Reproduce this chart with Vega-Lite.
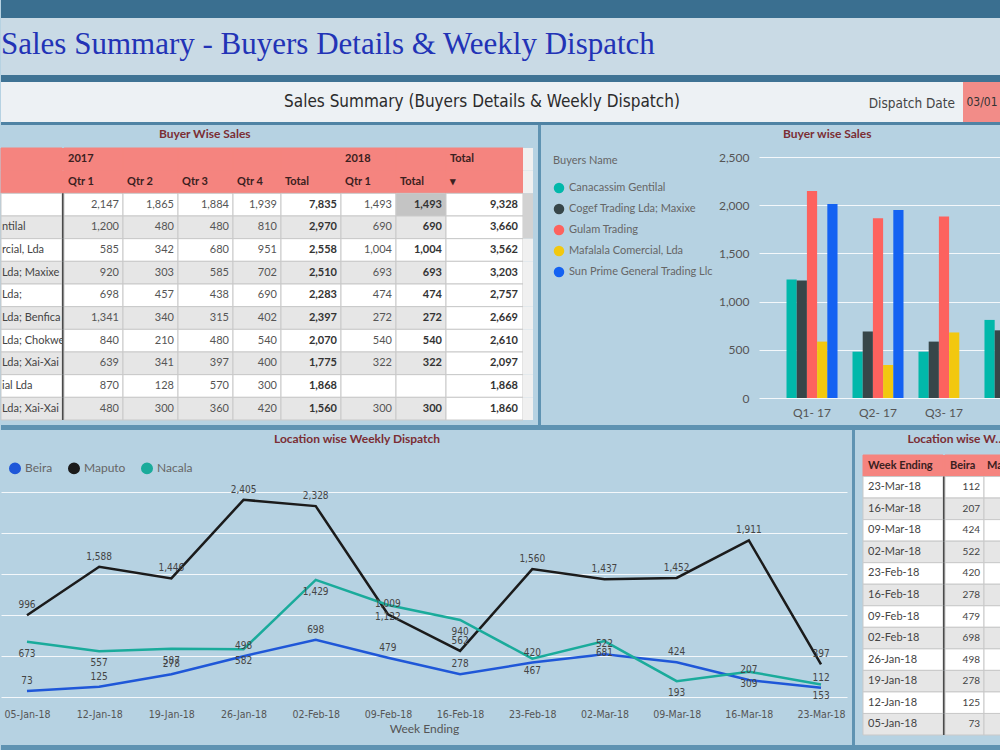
{
  "$schema": "https://vega.github.io/schema/vega-lite/v6.json",
  "background": "#b6d2e2",
  "padding": 0,
  "spacing": 0,
  "datasets": {
    "one": [{"k": ""}],
    "bars": [
      {"quarter": "Q1- 17", "buyer": "Canacassim Gentilal", "sales": 1230},
      {"quarter": "Q1- 17", "buyer": "Cogef Trading Lda; Maxixe", "sales": 1220},
      {"quarter": "Q1- 17", "buyer": "Gulam Trading", "sales": 2147},
      {"quarter": "Q1- 17", "buyer": "Mafalala Comercial, Lda", "sales": 585},
      {"quarter": "Q1- 17", "buyer": "Sun Prime General Trading Llc", "sales": 2013},
      {"quarter": "Q2- 17", "buyer": "Canacassim Gentilal", "sales": 480},
      {"quarter": "Q2- 17", "buyer": "Cogef Trading Lda; Maxixe", "sales": 690},
      {"quarter": "Q2- 17", "buyer": "Gulam Trading", "sales": 1865},
      {"quarter": "Q2- 17", "buyer": "Mafalala Comercial, Lda", "sales": 342},
      {"quarter": "Q2- 17", "buyer": "Sun Prime General Trading Llc", "sales": 1951},
      {"quarter": "Q3- 17", "buyer": "Canacassim Gentilal", "sales": 480},
      {"quarter": "Q3- 17", "buyer": "Cogef Trading Lda; Maxixe", "sales": 585},
      {"quarter": "Q3- 17", "buyer": "Gulam Trading", "sales": 1884},
      {"quarter": "Q3- 17", "buyer": "Mafalala Comercial, Lda", "sales": 680},
      {"quarter": "Q4- 17", "buyer": "Canacassim Gentilal", "sales": 810},
      {"quarter": "Q4- 17", "buyer": "Cogef Trading Lda; Maxixe", "sales": 702},
      {"quarter": "Q4- 17", "buyer": "Gulam Trading", "sales": 1939},
      {"quarter": "Q4- 17", "buyer": "Mafalala Comercial, Lda", "sales": 951}
    ],
    "t1": [
      {"r": -1, "c": "name"}, {"r": -1, "c": "q1", "s": "2017"}, {"r": -1, "c": "q2"}, {"r": -1, "c": "q3"}, {"r": -1, "c": "q4"}, {"r": -1, "c": "t17"}, {"r": -1, "c": "q1b", "s": "2018"}, {"r": -1, "c": "t18"}, {"r": -1, "c": "total", "s": "Total"},
      {"r": 0, "c": "name"}, {"r": 0, "c": "q1", "s": "Qtr 1"}, {"r": 0, "c": "q2", "s": "Qtr 2"}, {"r": 0, "c": "q3", "s": "Qtr 3"}, {"r": 0, "c": "q4", "s": "Qtr 4"}, {"r": 0, "c": "t17", "s": "Total"}, {"r": 0, "c": "q1b", "s": "Qtr 1"}, {"r": 0, "c": "t18", "s": "Total"}, {"r": 0, "c": "total", "s": "▾"},
      {"r": 1, "c": "name"}, {"r": 1, "c": "q1", "v": 2147}, {"r": 1, "c": "q2", "v": 1865}, {"r": 1, "c": "q3", "v": 1884}, {"r": 1, "c": "q4", "v": 1939}, {"r": 1, "c": "t17", "v": 7835}, {"r": 1, "c": "q1b", "v": 1493}, {"r": 1, "c": "t18", "v": 1493}, {"r": 1, "c": "total", "v": 9328},
      {"r": 2, "c": "name", "s": "ntilal"}, {"r": 2, "c": "q1", "v": 1200}, {"r": 2, "c": "q2", "v": 480}, {"r": 2, "c": "q3", "v": 480}, {"r": 2, "c": "q4", "v": 810}, {"r": 2, "c": "t17", "v": 2970}, {"r": 2, "c": "q1b", "v": 690}, {"r": 2, "c": "t18", "v": 690}, {"r": 2, "c": "total", "v": 3660},
      {"r": 3, "c": "name", "s": "rcial, Lda"}, {"r": 3, "c": "q1", "v": 585}, {"r": 3, "c": "q2", "v": 342}, {"r": 3, "c": "q3", "v": 680}, {"r": 3, "c": "q4", "v": 951}, {"r": 3, "c": "t17", "v": 2558}, {"r": 3, "c": "q1b", "v": 1004}, {"r": 3, "c": "t18", "v": 1004}, {"r": 3, "c": "total", "v": 3562},
      {"r": 4, "c": "name", "s": "Lda; Maxixe"}, {"r": 4, "c": "q1", "v": 920}, {"r": 4, "c": "q2", "v": 303}, {"r": 4, "c": "q3", "v": 585}, {"r": 4, "c": "q4", "v": 702}, {"r": 4, "c": "t17", "v": 2510}, {"r": 4, "c": "q1b", "v": 693}, {"r": 4, "c": "t18", "v": 693}, {"r": 4, "c": "total", "v": 3203},
      {"r": 5, "c": "name", "s": "Lda;"}, {"r": 5, "c": "q1", "v": 698}, {"r": 5, "c": "q2", "v": 457}, {"r": 5, "c": "q3", "v": 438}, {"r": 5, "c": "q4", "v": 690}, {"r": 5, "c": "t17", "v": 2283}, {"r": 5, "c": "q1b", "v": 474}, {"r": 5, "c": "t18", "v": 474}, {"r": 5, "c": "total", "v": 2757},
      {"r": 6, "c": "name", "s": "Lda; Benfica"}, {"r": 6, "c": "q1", "v": 1341}, {"r": 6, "c": "q2", "v": 340}, {"r": 6, "c": "q3", "v": 315}, {"r": 6, "c": "q4", "v": 402}, {"r": 6, "c": "t17", "v": 2397}, {"r": 6, "c": "q1b", "v": 272}, {"r": 6, "c": "t18", "v": 272}, {"r": 6, "c": "total", "v": 2669},
      {"r": 7, "c": "name", "s": "Lda; Chokwe"}, {"r": 7, "c": "q1", "v": 840}, {"r": 7, "c": "q2", "v": 210}, {"r": 7, "c": "q3", "v": 480}, {"r": 7, "c": "q4", "v": 540}, {"r": 7, "c": "t17", "v": 2070}, {"r": 7, "c": "q1b", "v": 540}, {"r": 7, "c": "t18", "v": 540}, {"r": 7, "c": "total", "v": 2610},
      {"r": 8, "c": "name", "s": "Lda; Xai-Xai"}, {"r": 8, "c": "q1", "v": 639}, {"r": 8, "c": "q2", "v": 341}, {"r": 8, "c": "q3", "v": 397}, {"r": 8, "c": "q4", "v": 400}, {"r": 8, "c": "t17", "v": 1775}, {"r": 8, "c": "q1b", "v": 322}, {"r": 8, "c": "t18", "v": 322}, {"r": 8, "c": "total", "v": 2097},
      {"r": 9, "c": "name", "s": "ial Lda"}, {"r": 9, "c": "q1", "v": 870}, {"r": 9, "c": "q2", "v": 128}, {"r": 9, "c": "q3", "v": 570}, {"r": 9, "c": "q4", "v": 300}, {"r": 9, "c": "t17", "v": 1868}, {"r": 9, "c": "q1b"}, {"r": 9, "c": "t18"}, {"r": 9, "c": "total", "v": 1868},
      {"r": 10, "c": "name", "s": "Lda; Xai-Xai"}, {"r": 10, "c": "q1", "v": 480}, {"r": 10, "c": "q2", "v": 300}, {"r": 10, "c": "q3", "v": 360}, {"r": 10, "c": "q4", "v": 420}, {"r": 10, "c": "t17", "v": 1560}, {"r": 10, "c": "q1b", "v": 300}, {"r": 10, "c": "t18", "v": 300}, {"r": 10, "c": "total", "v": 1860}
    ],
    "dispatch": [
      {"week": "05-Jan-18", "location": "Beira", "qty": 73},
      {"week": "12-Jan-18", "location": "Beira", "qty": 125},
      {"week": "19-Jan-18", "location": "Beira", "qty": 278},
      {"week": "26-Jan-18", "location": "Beira", "qty": 498},
      {"week": "02-Feb-18", "location": "Beira", "qty": 698},
      {"week": "09-Feb-18", "location": "Beira", "qty": 479},
      {"week": "16-Feb-18", "location": "Beira", "qty": 278},
      {"week": "23-Feb-18", "location": "Beira", "qty": 420},
      {"week": "02-Mar-18", "location": "Beira", "qty": 522},
      {"week": "09-Mar-18", "location": "Beira", "qty": 424},
      {"week": "16-Mar-18", "location": "Beira", "qty": 207},
      {"week": "23-Mar-18", "location": "Beira", "qty": 112},
      {"week": "05-Jan-18", "location": "Maputo", "qty": 996},
      {"week": "12-Jan-18", "location": "Maputo", "qty": 1588},
      {"week": "19-Jan-18", "location": "Maputo", "qty": 1446},
      {"week": "26-Jan-18", "location": "Maputo", "qty": 2405},
      {"week": "02-Feb-18", "location": "Maputo", "qty": 2328},
      {"week": "09-Feb-18", "location": "Maputo", "qty": 1009},
      {"week": "16-Feb-18", "location": "Maputo", "qty": 562},
      {"week": "23-Feb-18", "location": "Maputo", "qty": 1560},
      {"week": "02-Mar-18", "location": "Maputo", "qty": 1437},
      {"week": "09-Mar-18", "location": "Maputo", "qty": 1452},
      {"week": "16-Mar-18", "location": "Maputo", "qty": 1911},
      {"week": "23-Mar-18", "location": "Maputo", "qty": 397},
      {"week": "05-Jan-18", "location": "Nacala", "qty": 673},
      {"week": "12-Jan-18", "location": "Nacala", "qty": 557},
      {"week": "19-Jan-18", "location": "Nacala", "qty": 587},
      {"week": "26-Jan-18", "location": "Nacala", "qty": 582},
      {"week": "02-Feb-18", "location": "Nacala", "qty": 1429},
      {"week": "09-Feb-18", "location": "Nacala", "qty": 1122},
      {"week": "16-Feb-18", "location": "Nacala", "qty": 940},
      {"week": "23-Feb-18", "location": "Nacala", "qty": 467},
      {"week": "02-Mar-18", "location": "Nacala", "qty": 681},
      {"week": "09-Mar-18", "location": "Nacala", "qty": 193},
      {"week": "16-Mar-18", "location": "Nacala", "qty": 309},
      {"week": "23-Mar-18", "location": "Nacala", "qty": 153}
    ],
    "wt": [
      {"r": 0, "c": "wk", "s": "Week Ending"}, {"r": 0, "c": "beira", "s": "Beira"}, {"r": 0, "c": "maputo", "s": "Maputo"},
      {"r": 1, "c": "wk", "s": "23-Mar-18"}, {"r": 1, "c": "beira", "v": 112}, {"r": 1, "c": "maputo"},
      {"r": 2, "c": "wk", "s": "16-Mar-18"}, {"r": 2, "c": "beira", "v": 207}, {"r": 2, "c": "maputo"},
      {"r": 3, "c": "wk", "s": "09-Mar-18"}, {"r": 3, "c": "beira", "v": 424}, {"r": 3, "c": "maputo"},
      {"r": 4, "c": "wk", "s": "02-Mar-18"}, {"r": 4, "c": "beira", "v": 522}, {"r": 4, "c": "maputo"},
      {"r": 5, "c": "wk", "s": "23-Feb-18"}, {"r": 5, "c": "beira", "v": 420}, {"r": 5, "c": "maputo"},
      {"r": 6, "c": "wk", "s": "16-Feb-18"}, {"r": 6, "c": "beira", "v": 278}, {"r": 6, "c": "maputo"},
      {"r": 7, "c": "wk", "s": "09-Feb-18"}, {"r": 7, "c": "beira", "v": 479}, {"r": 7, "c": "maputo"},
      {"r": 8, "c": "wk", "s": "02-Feb-18"}, {"r": 8, "c": "beira", "v": 698}, {"r": 8, "c": "maputo"},
      {"r": 9, "c": "wk", "s": "26-Jan-18"}, {"r": 9, "c": "beira", "v": 498}, {"r": 9, "c": "maputo"},
      {"r": 10, "c": "wk", "s": "19-Jan-18"}, {"r": 10, "c": "beira", "v": 278}, {"r": 10, "c": "maputo"},
      {"r": 11, "c": "wk", "s": "12-Jan-18"}, {"r": 11, "c": "beira", "v": 125}, {"r": 11, "c": "maputo"},
      {"r": 12, "c": "wk", "s": "05-Jan-18"}, {"r": 12, "c": "beira", "v": 73}, {"r": 12, "c": "maputo"}
    ]
  },
  "vconcat": [
    {"width": 1000, "height": 18, "data": {"name": "one"}, "mark": {"type": "text", "fontSize": 0}, "encoding": {"text": {"field": "k"}}, "view": {"fill": "#3a6f90"}},
    {"width": 1000, "height": 57, "data": {"name": "one"}, "mark": {"type": "text", "fontSize": 0}, "encoding": {"text": {"field": "k"}}, "view": {"fill": "#c9dae5"},
     "title": {"text": "Sales Summary - Buyers Details & Weekly Dispatch", "anchor": "start", "frame": "group", "offset": -43, "font": "Liberation Serif", "fontSize": 31, "fontWeight": "normal", "color": "#2233b6"}},
    {"width": 1000, "height": 7, "data": {"name": "one"}, "mark": {"type": "text", "fontSize": 0}, "encoding": {"text": {"field": "k"}}, "view": {"fill": "#3f7394"}},
    {"hconcat": [
      {"width": 962, "height": 40, "data": {"values": [{"heading": "Sales Summary (Buyers Details & Weekly Dispatch)"}]},
       "mark": {"type": "text", "font": "DejaVu Sans Condensed", "fontSize": 17, "color": "#2b2b2b"},
       "encoding": {"text": {"field": "heading"}}, "view": {"fill": "#edf1f4"},
       "title": {"text": "Dispatch Date", "anchor": "end", "frame": "group", "offset": -28, "dx": -8, "font": "DejaVu Sans Condensed", "fontSize": 13.5, "fontWeight": "normal", "color": "#444444"}},
      {"width": 38, "height": 40, "data": {"values": [{"date": "03/01"}]},
       "mark": {"type": "text", "font": "DejaVu Sans Condensed", "fontSize": 12, "color": "#333333"},
       "encoding": {"text": {"field": "date"}}, "view": {"fill": "#f28c88"}}
    ], "spacing": 0, "bounds": "flush"},
    {"width": 1000, "height": 3, "data": {"name": "one"}, "mark": {"type": "text", "fontSize": 0}, "encoding": {"text": {"field": "k"}}, "view": {"fill": "#4f83a4"}},
    {"hconcat": [
      {"data": {"name": "t1"},
       "title": {"text": "Buyer Wise Sales", "anchor": "middle", "dx": -62, "offset": -16},
       "bounds": "flush",
       "hconcat": [
        {"width": 61, "height": 295, "transform": [{"filter": "datum.c == 'name'"}],
         "layer": [
          {"mark": {"type": "rect", "strokeWidth": 1},
           "encoding": {"x": {"field": "c", "type": "nominal", "axis": null, "scale": {"paddingInner": 0, "paddingOuter": 0}}, "y": {"field": "r", "type": "ordinal", "axis": null, "scale": {"domain": [-1,0,1,2,3,4,5,6,7,8,9,10], "range": [23, 295], "paddingInner": 0, "paddingOuter": 0}},
            "stroke": {"condition": {"test": "datum.r <= 0", "value": "#f5847f"}, "value": "#c9c9c9"},
            "fill": {"condition": [{"test": "datum.r <= 0", "value": "#f5847f"}, {"test": "datum.c == 'total'", "value": "#ffffff"}, {"test": "datum.r == 1 && datum.c == 't18'", "value": "#c4c4c4"}, {"test": "datum.r % 2 == 0", "value": "#e6e6e6"}], "value": "#ffffff"}}},
          {"transform": [{"filter": "isValid(datum.s)"}], "mark": {"type": "text", "align": "left", "dx": 1, "fontSize": 11, "color": "#444444"},
           "encoding": {"x": {"field": "c", "type": "nominal", "axis": null, "bandPosition": 0}, "y": {"field": "r", "type": "ordinal", "axis": null}, "text": {"field": "s"}}}
         ]},
        {"width": 2, "height": 295, "transform": [{"filter": "datum.c == 'name'"}],
         "mark": {"type": "rect"},
         "encoding": {"x": {"field": "c", "type": "nominal", "axis": null, "scale": {"paddingInner": 0, "paddingOuter": 0}}, "y": {"field": "r", "type": "ordinal", "axis": null, "scale": {"domain": [-1,0,1,2,3,4,5,6,7,8,9,10], "range": [23, 295], "paddingInner": 0, "paddingOuter": 0}},
          "fill": {"condition": {"test": "datum.r <= 0", "value": "#f5847f"}, "value": "#4a4a4a"}}},
        {"width": 59, "height": 295, "transform": [{"filter": "datum.c == 'q1'"}],
         "layer": [
          {"mark": {"type": "rect", "strokeWidth": 1},
           "encoding": {"x": {"field": "c", "type": "nominal", "axis": null, "scale": {"paddingInner": 0, "paddingOuter": 0}}, "y": {"field": "r", "type": "ordinal", "axis": null, "scale": {"domain": [-1,0,1,2,3,4,5,6,7,8,9,10], "range": [23, 295], "paddingInner": 0, "paddingOuter": 0}},
            "stroke": {"condition": {"test": "datum.r <= 0", "value": "#f5847f"}, "value": "#c9c9c9"},
            "fill": {"condition": [{"test": "datum.r <= 0", "value": "#f5847f"}, {"test": "datum.c == 'total'", "value": "#ffffff"}, {"test": "datum.r == 1 && datum.c == 't18'", "value": "#c4c4c4"}, {"test": "datum.r % 2 == 0", "value": "#e6e6e6"}], "value": "#ffffff"}}},
          {"transform": [{"filter": "isValid(datum.s)"}], "mark": {"type": "text", "align": "left", "dx": 4, "fontSize": 11, "fontWeight": "bold", "color": "#3a2020"},
           "encoding": {"x": {"field": "c", "type": "nominal", "axis": null, "bandPosition": 0}, "y": {"field": "r", "type": "ordinal", "axis": null}, "text": {"field": "s"}}},
          {"transform": [{"filter": "isValid(datum.v)"}], "mark": {"type": "text", "align": "right", "dx": -4, "fontSize": 11, "color": "#555555"},
           "encoding": {"x": {"field": "c", "type": "nominal", "axis": null, "bandPosition": 1}, "y": {"field": "r", "type": "ordinal", "axis": null}, "text": {"field": "v", "type": "quantitative", "format": ","}}}
         ]},
        {"width": 55, "height": 295, "transform": [{"filter": "datum.c == 'q2'"}],
         "layer": [
          {"mark": {"type": "rect", "strokeWidth": 1},
           "encoding": {"x": {"field": "c", "type": "nominal", "axis": null, "scale": {"paddingInner": 0, "paddingOuter": 0}}, "y": {"field": "r", "type": "ordinal", "axis": null, "scale": {"domain": [-1,0,1,2,3,4,5,6,7,8,9,10], "range": [23, 295], "paddingInner": 0, "paddingOuter": 0}},
            "stroke": {"condition": {"test": "datum.r <= 0", "value": "#f5847f"}, "value": "#c9c9c9"},
            "fill": {"condition": [{"test": "datum.r <= 0", "value": "#f5847f"}, {"test": "datum.c == 'total'", "value": "#ffffff"}, {"test": "datum.r == 1 && datum.c == 't18'", "value": "#c4c4c4"}, {"test": "datum.r % 2 == 0", "value": "#e6e6e6"}], "value": "#ffffff"}}},
          {"transform": [{"filter": "isValid(datum.s)"}], "mark": {"type": "text", "align": "left", "dx": 4, "fontSize": 11, "fontWeight": "bold", "color": "#3a2020"},
           "encoding": {"x": {"field": "c", "type": "nominal", "axis": null, "bandPosition": 0}, "y": {"field": "r", "type": "ordinal", "axis": null}, "text": {"field": "s"}}},
          {"transform": [{"filter": "isValid(datum.v)"}], "mark": {"type": "text", "align": "right", "dx": -4, "fontSize": 11, "color": "#555555"},
           "encoding": {"x": {"field": "c", "type": "nominal", "axis": null, "bandPosition": 1}, "y": {"field": "r", "type": "ordinal", "axis": null}, "text": {"field": "v", "type": "quantitative", "format": ","}}}
         ]},
        {"width": 55, "height": 295, "transform": [{"filter": "datum.c == 'q3'"}],
         "layer": [
          {"mark": {"type": "rect", "strokeWidth": 1},
           "encoding": {"x": {"field": "c", "type": "nominal", "axis": null, "scale": {"paddingInner": 0, "paddingOuter": 0}}, "y": {"field": "r", "type": "ordinal", "axis": null, "scale": {"domain": [-1,0,1,2,3,4,5,6,7,8,9,10], "range": [23, 295], "paddingInner": 0, "paddingOuter": 0}},
            "stroke": {"condition": {"test": "datum.r <= 0", "value": "#f5847f"}, "value": "#c9c9c9"},
            "fill": {"condition": [{"test": "datum.r <= 0", "value": "#f5847f"}, {"test": "datum.c == 'total'", "value": "#ffffff"}, {"test": "datum.r == 1 && datum.c == 't18'", "value": "#c4c4c4"}, {"test": "datum.r % 2 == 0", "value": "#e6e6e6"}], "value": "#ffffff"}}},
          {"transform": [{"filter": "isValid(datum.s)"}], "mark": {"type": "text", "align": "left", "dx": 4, "fontSize": 11, "fontWeight": "bold", "color": "#3a2020"},
           "encoding": {"x": {"field": "c", "type": "nominal", "axis": null, "bandPosition": 0}, "y": {"field": "r", "type": "ordinal", "axis": null}, "text": {"field": "s"}}},
          {"transform": [{"filter": "isValid(datum.v)"}], "mark": {"type": "text", "align": "right", "dx": -4, "fontSize": 11, "color": "#555555"},
           "encoding": {"x": {"field": "c", "type": "nominal", "axis": null, "bandPosition": 1}, "y": {"field": "r", "type": "ordinal", "axis": null}, "text": {"field": "v", "type": "quantitative", "format": ","}}}
         ]},
        {"width": 48, "height": 295, "transform": [{"filter": "datum.c == 'q4'"}],
         "layer": [
          {"mark": {"type": "rect", "strokeWidth": 1},
           "encoding": {"x": {"field": "c", "type": "nominal", "axis": null, "scale": {"paddingInner": 0, "paddingOuter": 0}}, "y": {"field": "r", "type": "ordinal", "axis": null, "scale": {"domain": [-1,0,1,2,3,4,5,6,7,8,9,10], "range": [23, 295], "paddingInner": 0, "paddingOuter": 0}},
            "stroke": {"condition": {"test": "datum.r <= 0", "value": "#f5847f"}, "value": "#c9c9c9"},
            "fill": {"condition": [{"test": "datum.r <= 0", "value": "#f5847f"}, {"test": "datum.c == 'total'", "value": "#ffffff"}, {"test": "datum.r == 1 && datum.c == 't18'", "value": "#c4c4c4"}, {"test": "datum.r % 2 == 0", "value": "#e6e6e6"}], "value": "#ffffff"}}},
          {"transform": [{"filter": "isValid(datum.s)"}], "mark": {"type": "text", "align": "left", "dx": 4, "fontSize": 11, "fontWeight": "bold", "color": "#3a2020"},
           "encoding": {"x": {"field": "c", "type": "nominal", "axis": null, "bandPosition": 0}, "y": {"field": "r", "type": "ordinal", "axis": null}, "text": {"field": "s"}}},
          {"transform": [{"filter": "isValid(datum.v)"}], "mark": {"type": "text", "align": "right", "dx": -4, "fontSize": 11, "color": "#555555"},
           "encoding": {"x": {"field": "c", "type": "nominal", "axis": null, "bandPosition": 1}, "y": {"field": "r", "type": "ordinal", "axis": null}, "text": {"field": "v", "type": "quantitative", "format": ","}}}
         ]},
        {"width": 60, "height": 295, "transform": [{"filter": "datum.c == 't17'"}],
         "layer": [
          {"mark": {"type": "rect", "strokeWidth": 1},
           "encoding": {"x": {"field": "c", "type": "nominal", "axis": null, "scale": {"paddingInner": 0, "paddingOuter": 0}}, "y": {"field": "r", "type": "ordinal", "axis": null, "scale": {"domain": [-1,0,1,2,3,4,5,6,7,8,9,10], "range": [23, 295], "paddingInner": 0, "paddingOuter": 0}},
            "stroke": {"condition": {"test": "datum.r <= 0", "value": "#f5847f"}, "value": "#c9c9c9"},
            "fill": {"condition": [{"test": "datum.r <= 0", "value": "#f5847f"}, {"test": "datum.c == 'total'", "value": "#ffffff"}, {"test": "datum.r == 1 && datum.c == 't18'", "value": "#c4c4c4"}, {"test": "datum.r % 2 == 0", "value": "#e6e6e6"}], "value": "#ffffff"}}},
          {"transform": [{"filter": "isValid(datum.s)"}], "mark": {"type": "text", "align": "left", "dx": 4, "fontSize": 11, "fontWeight": "bold", "color": "#3a2020"},
           "encoding": {"x": {"field": "c", "type": "nominal", "axis": null, "bandPosition": 0}, "y": {"field": "r", "type": "ordinal", "axis": null}, "text": {"field": "s"}}},
          {"transform": [{"filter": "isValid(datum.v)"}], "mark": {"type": "text", "align": "right", "dx": -4, "fontSize": 11, "fontWeight": "bold", "color": "#333333"},
           "encoding": {"x": {"field": "c", "type": "nominal", "axis": null, "bandPosition": 1}, "y": {"field": "r", "type": "ordinal", "axis": null}, "text": {"field": "v", "type": "quantitative", "format": ","}}}
         ]},
        {"width": 55, "height": 295, "transform": [{"filter": "datum.c == 'q1b'"}],
         "layer": [
          {"mark": {"type": "rect", "strokeWidth": 1},
           "encoding": {"x": {"field": "c", "type": "nominal", "axis": null, "scale": {"paddingInner": 0, "paddingOuter": 0}}, "y": {"field": "r", "type": "ordinal", "axis": null, "scale": {"domain": [-1,0,1,2,3,4,5,6,7,8,9,10], "range": [23, 295], "paddingInner": 0, "paddingOuter": 0}},
            "stroke": {"condition": {"test": "datum.r <= 0", "value": "#f5847f"}, "value": "#c9c9c9"},
            "fill": {"condition": [{"test": "datum.r <= 0", "value": "#f5847f"}, {"test": "datum.c == 'total'", "value": "#ffffff"}, {"test": "datum.r == 1 && datum.c == 't18'", "value": "#c4c4c4"}, {"test": "datum.r % 2 == 0", "value": "#e6e6e6"}], "value": "#ffffff"}}},
          {"transform": [{"filter": "isValid(datum.s)"}], "mark": {"type": "text", "align": "left", "dx": 4, "fontSize": 11, "fontWeight": "bold", "color": "#3a2020"},
           "encoding": {"x": {"field": "c", "type": "nominal", "axis": null, "bandPosition": 0}, "y": {"field": "r", "type": "ordinal", "axis": null}, "text": {"field": "s"}}},
          {"transform": [{"filter": "isValid(datum.v)"}], "mark": {"type": "text", "align": "right", "dx": -4, "fontSize": 11, "color": "#555555"},
           "encoding": {"x": {"field": "c", "type": "nominal", "axis": null, "bandPosition": 1}, "y": {"field": "r", "type": "ordinal", "axis": null}, "text": {"field": "v", "type": "quantitative", "format": ","}}}
         ]},
        {"width": 50, "height": 295, "transform": [{"filter": "datum.c == 't18'"}],
         "layer": [
          {"mark": {"type": "rect", "strokeWidth": 1},
           "encoding": {"x": {"field": "c", "type": "nominal", "axis": null, "scale": {"paddingInner": 0, "paddingOuter": 0}}, "y": {"field": "r", "type": "ordinal", "axis": null, "scale": {"domain": [-1,0,1,2,3,4,5,6,7,8,9,10], "range": [23, 295], "paddingInner": 0, "paddingOuter": 0}},
            "stroke": {"condition": {"test": "datum.r <= 0", "value": "#f5847f"}, "value": "#c9c9c9"},
            "fill": {"condition": [{"test": "datum.r <= 0", "value": "#f5847f"}, {"test": "datum.c == 'total'", "value": "#ffffff"}, {"test": "datum.r == 1 && datum.c == 't18'", "value": "#c4c4c4"}, {"test": "datum.r % 2 == 0", "value": "#e6e6e6"}], "value": "#ffffff"}}},
          {"transform": [{"filter": "isValid(datum.s)"}], "mark": {"type": "text", "align": "left", "dx": 4, "fontSize": 11, "fontWeight": "bold", "color": "#3a2020"},
           "encoding": {"x": {"field": "c", "type": "nominal", "axis": null, "bandPosition": 0}, "y": {"field": "r", "type": "ordinal", "axis": null}, "text": {"field": "s"}}},
          {"transform": [{"filter": "isValid(datum.v)"}], "mark": {"type": "text", "align": "right", "dx": -4, "fontSize": 11, "fontWeight": "bold", "color": "#333333"},
           "encoding": {"x": {"field": "c", "type": "nominal", "axis": null, "bandPosition": 1}, "y": {"field": "r", "type": "ordinal", "axis": null}, "text": {"field": "v", "type": "quantitative", "format": ","}}}
         ]},
        {"width": 77, "height": 295, "transform": [{"filter": "datum.c == 'total'"}],
         "layer": [
          {"mark": {"type": "rect", "strokeWidth": 1},
           "encoding": {"x": {"field": "c", "type": "nominal", "axis": null, "scale": {"paddingInner": 0, "paddingOuter": 0}}, "y": {"field": "r", "type": "ordinal", "axis": null, "scale": {"domain": [-1,0,1,2,3,4,5,6,7,8,9,10], "range": [23, 295], "paddingInner": 0, "paddingOuter": 0}},
            "stroke": {"condition": {"test": "datum.r <= 0", "value": "#f5847f"}, "value": "#c9c9c9"},
            "fill": {"condition": [{"test": "datum.r <= 0", "value": "#f5847f"}, {"test": "datum.c == 'total'", "value": "#ffffff"}, {"test": "datum.r == 1 && datum.c == 't18'", "value": "#c4c4c4"}, {"test": "datum.r % 2 == 0", "value": "#e6e6e6"}], "value": "#ffffff"}}},
          {"transform": [{"filter": "isValid(datum.s)"}], "mark": {"type": "text", "align": "left", "dx": 4, "fontSize": 11, "fontWeight": "bold", "color": "#3a2020"},
           "encoding": {"x": {"field": "c", "type": "nominal", "axis": null, "bandPosition": 0}, "y": {"field": "r", "type": "ordinal", "axis": null}, "text": {"field": "s"}}},
          {"transform": [{"filter": "isValid(datum.v)"}], "mark": {"type": "text", "align": "right", "dx": -5, "fontSize": 11, "fontWeight": "bold", "color": "#333333"},
           "encoding": {"x": {"field": "c", "type": "nominal", "axis": null, "bandPosition": 1}, "y": {"field": "r", "type": "ordinal", "axis": null}, "text": {"field": "v", "type": "quantitative", "format": ","}}}
         ]},
        {"width": 10, "height": 295, "transform": [{"filter": "datum.c == 'total'"}],
         "mark": {"type": "rect"},
         "encoding": {"x": {"field": "c", "type": "nominal", "axis": null, "scale": {"paddingInner": 0, "paddingOuter": 0}}, "y": {"field": "r", "type": "ordinal", "axis": null, "scale": {"domain": [-1,0,1,2,3,4,5,6,7,8,9,10], "range": [23, 295], "paddingInner": 0, "paddingOuter": 0}},
          "fill": {"condition": {"test": "datum.r == 1 || datum.r == 2", "value": "#d2d2d2"}, "value": "#f0f0f0"}}}
       ], "spacing": 0},
      {"width": 5, "height": 300, "data": {"name": "one"}, "mark": {"type": "text", "fontSize": 0}, "encoding": {"text": {"field": "k"}}},
      {"width": 3, "height": 300, "data": {"name": "one"}, "mark": {"type": "text", "fontSize": 0}, "encoding": {"text": {"field": "k"}}, "view": {"fill": "#5f93b2"}},
      {"width": 12, "height": 300, "data": {"name": "one"}, "mark": {"type": "text", "fontSize": 0}, "encoding": {"text": {"field": "k"}}},
      {"width": 242, "height": 273, "data": {"name": "bars"},
       "title": {"text": "Buyer wise Sales", "anchor": "start", "frame": "group", "dx": 24, "offset": -16},
       "mark": {"type": "bar", "clip": true},
       "encoding": {
        "x": {"field": "quarter", "type": "nominal", "scale": {"domain": ["Q1- 17", "Q2- 17", "Q3- 17", "Q4- 17"], "range": [0, 304], "paddingInner": 0.227, "paddingOuter": 0.417},
              "axis": {"title": null, "values": ["Q1- 17", "Q2- 17", "Q3- 17"], "labelAngle": 0, "domain": false, "ticks": false, "labelPadding": 9, "labelFontSize": 12, "labelColor": "#555555"}},
        "xOffset": {"field": "buyer", "type": "nominal", "scale": {"paddingInner": 0, "paddingOuter": 0}},
        "y": {"field": "sales", "type": "quantitative", "scale": {"domain": [0, 2832], "nice": false},
              "axis": {"title": null, "values": [0, 500, 1000, 1500, 2000, 2500], "format": ",.0f", "domain": false, "ticks": false, "labelPadding": 10, "labelFontSize": 12, "labelColor": "#555555", "grid": true}},
        "color": {"field": "buyer", "type": "nominal", "scale": {"domain": ["Canacassim Gentilal", "Cogef Trading Lda; Maxixe", "Gulam Trading", "Mafalala Comercial, Lda", "Sun Prime General Trading Llc"], "range": ["#01b8aa", "#374649", "#fd625e", "#f2c80f", "#1462f2"]},
                  "legend": {"title": "Buyers Name", "orient": "none", "legendX": -206, "legendY": 30, "direction": "vertical", "padding": 0, "symbolType": "circle", "symbolSize": 110, "titleFontSize": 11, "titleFontWeight": "normal", "titleColor": "#666666", "titlePadding": 16, "labelFontSize": 11, "labelColor": "#666666", "rowPadding": 9, "labelLimit": 170}}
       }}
    ], "spacing": 0, "resolve": {"scale": {"color": "independent"}, "legend": {"color": "independent"}}},
    {"width": 1000, "height": 5, "data": {"name": "one"}, "mark": {"type": "text", "fontSize": 0}, "encoding": {"text": {"field": "k"}}, "view": {"fill": "#5f93b2"}},
    {"hconcat": [
      {"width": 846, "height": 267, "data": {"name": "dispatch"},
       "title": {"text": "Location wise Weekly Dispatch", "anchor": "middle", "frame": "group", "dx": -67, "offset": -16},
       "encoding": {
        "x": {"field": "week", "type": "ordinal", "sort": ["05-Jan-18", "12-Jan-18", "19-Jan-18", "26-Jan-18", "02-Feb-18", "09-Feb-18", "16-Feb-18", "23-Feb-18", "02-Mar-18", "09-Mar-18", "16-Mar-18", "23-Mar-18"],
              "scale": {"type": "point", "padding": 0.36},
              "axis": {"title": "Week Ending", "labelAngle": 0, "labelPadding": 12, "titlePadding": 4, "domain": false, "ticks": false, "grid": false, "labelFont": "DejaVu Sans Condensed", "labelFontSize": 10.5, "labelColor": "#555555", "titleFont": "Lato", "titleFontSize": 12, "titleFontWeight": "normal", "titleColor": "#555555"}},
        "y": {"field": "qty", "type": "quantitative", "scale": {"domain": [0, 3256], "nice": false},
              "axis": {"title": null, "labels": false, "ticks": false, "domain": false, "values": [0, 500, 1000, 1500, 2000, 2500], "grid": true}}
       },
       "layer": [
        {"mark": {"type": "line", "strokeWidth": 2.5},
         "encoding": {"color": {"field": "location", "type": "nominal", "scale": {"domain": ["Beira", "Maputo", "Nacala"], "range": ["#1f57d8", "#1b1b1b", "#1aab9b"]},
                               "legend": {"title": null, "orient": "none", "legendX": 8, "legendY": 32, "direction": "horizontal", "padding": 0, "symbolType": "circle", "symbolSize": 110, "labelFontSize": 12, "labelColor": "#666666", "columnPadding": 12,
                                          "encode": {"symbols": {"update": {"fill": {"signal": "datum.value == 'Beira' ? '#1f57d8' : datum.value == 'Maputo' ? '#1b1b1b' : '#1aab9b'"}, "fillOpacity": {"value": 1}}}}}}}},
        {"transform": [{"filter": "datum.location != 'Nacala'"}],
         "mark": {"type": "text", "dy": -10, "font": "DejaVu Sans Condensed", "fontSize": 10, "color": "#444444"},
         "encoding": {"text": {"field": "qty", "type": "quantitative", "format": ","}}},
        {"transform": [{"filter": "datum.location == 'Nacala'"}],
         "mark": {"type": "text", "dy": 12, "font": "DejaVu Sans Condensed", "fontSize": 10, "color": "#444444"},
         "encoding": {"text": {"field": "qty", "type": "quantitative", "format": ","}}}
       ]},
      {"width": 5, "height": 315, "data": {"name": "one"}, "mark": {"type": "text", "fontSize": 0}, "encoding": {"text": {"field": "k"}}},
      {"width": 3, "height": 315, "data": {"name": "one"}, "mark": {"type": "text", "fontSize": 0}, "encoding": {"text": {"field": "k"}}, "view": {"fill": "#5f93b2"}},
      {"width": 7, "height": 315, "data": {"name": "one"}, "mark": {"type": "text", "fontSize": 0}, "encoding": {"text": {"field": "k"}}},
      {"data": {"name": "wt"},
       "title": {"text": "Location wise Weekly Dispatch", "anchor": "start", "dx": 45, "limit": 100, "offset": -16},
       "bounds": "flush",
       "hconcat": [
        {"width": 80, "height": 305, "transform": [{"filter": "datum.c == 'wk'"}],
         "layer": [
          {"mark": {"type": "rect", "strokeWidth": 1},
           "encoding": {"x": {"field": "c", "type": "nominal", "axis": null, "scale": {"paddingInner": 0, "paddingOuter": 0}}, "y": {"field": "r", "type": "ordinal", "axis": null, "scale": {"domain": [0,1,2,3,4,5,6,7,8,9,10,11,12], "range": [25, 305], "paddingInner": 0, "paddingOuter": 0}},
            "stroke": {"condition": {"test": "datum.r == 0", "value": "#f5847f"}, "value": "#c9c9c9"},
            "fill": {"condition": [{"test": "datum.r == 0", "value": "#f5847f"}, {"test": "datum.r % 2 == 0", "value": "#e6e6e6"}], "value": "#ffffff"}}},
          {"transform": [{"filter": "datum.r == 0"}], "mark": {"type": "text", "align": "left", "dx": 5, "fontSize": 11, "fontWeight": "bold", "color": "#3a2020"},
           "encoding": {"x": {"field": "c", "type": "nominal", "axis": null, "bandPosition": 0}, "y": {"field": "r", "type": "ordinal", "axis": null}, "text": {"field": "s"}}},
          {"transform": [{"filter": "datum.r > 0"}], "mark": {"type": "text", "align": "left", "dx": 5, "fontSize": 11, "color": "#444444"},
           "encoding": {"x": {"field": "c", "type": "nominal", "axis": null, "bandPosition": 0}, "y": {"field": "r", "type": "ordinal", "axis": null}, "text": {"field": "s"}}}
         ]},
        {"width": 2, "height": 305, "transform": [{"filter": "datum.c == 'wk'"}],
         "mark": {"type": "rect"},
         "encoding": {"x": {"field": "c", "type": "nominal", "axis": null, "scale": {"paddingInner": 0, "paddingOuter": 0}}, "y": {"field": "r", "type": "ordinal", "axis": null, "scale": {"domain": [0,1,2,3,4,5,6,7,8,9,10,11,12], "range": [25, 305], "paddingInner": 0, "paddingOuter": 0}},
          "fill": {"condition": {"test": "datum.r == 0", "value": "#f5847f"}, "value": "#4a4a4a"}}},
        {"width": 39, "height": 305, "transform": [{"filter": "datum.c == 'beira'"}],
         "layer": [
          {"mark": {"type": "rect", "strokeWidth": 1},
           "encoding": {"x": {"field": "c", "type": "nominal", "axis": null, "scale": {"paddingInner": 0, "paddingOuter": 0}}, "y": {"field": "r", "type": "ordinal", "axis": null, "scale": {"domain": [0,1,2,3,4,5,6,7,8,9,10,11,12], "range": [25, 305], "paddingInner": 0, "paddingOuter": 0}},
            "stroke": {"condition": {"test": "datum.r == 0", "value": "#f5847f"}, "value": "#c9c9c9"},
            "fill": {"condition": [{"test": "datum.r == 0", "value": "#f5847f"}, {"test": "datum.r % 2 == 0", "value": "#e6e6e6"}], "value": "#ffffff"}}},
          {"transform": [{"filter": "isValid(datum.s)"}], "mark": {"type": "text", "align": "left", "dx": 5, "fontSize": 11, "fontWeight": "bold", "color": "#3a2020"},
           "encoding": {"x": {"field": "c", "type": "nominal", "axis": null, "bandPosition": 0}, "y": {"field": "r", "type": "ordinal", "axis": null}, "text": {"field": "s"}}},
          {"transform": [{"filter": "isValid(datum.v)"}], "mark": {"type": "text", "align": "right", "dx": -4, "fontSize": 10, "color": "#444444"},
           "encoding": {"x": {"field": "c", "type": "nominal", "axis": null, "bandPosition": 1}, "y": {"field": "r", "type": "ordinal", "axis": null}, "text": {"field": "v", "type": "quantitative", "format": ","}}}
         ]},
        {"width": 18, "height": 305, "transform": [{"filter": "datum.c == 'maputo'"}],
         "layer": [
          {"mark": {"type": "rect", "strokeWidth": 1},
           "encoding": {"x": {"field": "c", "type": "nominal", "axis": null, "scale": {"paddingInner": 0, "paddingOuter": 0}}, "y": {"field": "r", "type": "ordinal", "axis": null, "scale": {"domain": [0,1,2,3,4,5,6,7,8,9,10,11,12], "range": [25, 305], "paddingInner": 0, "paddingOuter": 0}},
            "stroke": {"condition": {"test": "datum.r == 0", "value": "#f5847f"}, "value": "#c9c9c9"},
            "fill": {"condition": [{"test": "datum.r == 0", "value": "#f5847f"}, {"test": "datum.r % 2 == 0", "value": "#e6e6e6"}], "value": "#ffffff"}}},
          {"transform": [{"filter": "isValid(datum.s)"}], "mark": {"type": "text", "align": "left", "dx": 3, "fontSize": 11, "fontWeight": "bold", "color": "#3a2020", "limit": 16, "ellipsis": "\u200b"},
           "encoding": {"x": {"field": "c", "type": "nominal", "axis": null, "bandPosition": 0}, "y": {"field": "r", "type": "ordinal", "axis": null}, "text": {"field": "s"}}}
         ]}
       ], "spacing": 0}
    ], "spacing": 0, "resolve": {"scale": {"color": "independent"}, "legend": {"color": "independent"}}},
    {"width": 1000, "height": 5, "data": {"name": "one"}, "mark": {"type": "text", "fontSize": 0}, "encoding": {"text": {"field": "k"}}, "view": {"fill": "#5f93b2"}}
  ],
  "resolve": {"scale": {"color": "independent"}, "legend": {"color": "independent"}},
  "config": {
    "view": {"stroke": null},
    "font": "Lato",
    "title": {"font": "Lato", "fontSize": 12, "fontWeight": "bold", "color": "#7b2e34"},
    "axis": {"labelFont": "Lato", "titleFont": "Lato", "gridColor": "#ffffff", "gridOpacity": 0.85},
    "legend": {"labelFont": "Lato", "titleFont": "Lato"},
    "text": {"font": "Lato"}
  }
}
